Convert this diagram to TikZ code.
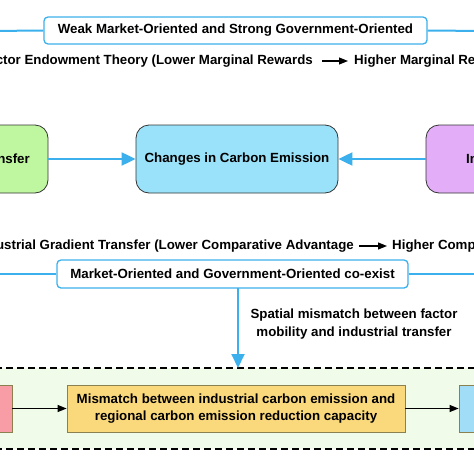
\documentclass[tikz,border=0pt]{standalone}
\usepackage{fontspec}
\setmainfont{Liberation Sans}
\usetikzlibrary{arrows.meta}
\definecolor{lnblue}{HTML}{3CB0EC}
\definecolor{cyanfill}{HTML}{9AE2F9}
\definecolor{greenfill}{HTML}{BFF6A0}
\definecolor{purplefill}{HTML}{E3AEF7}
\definecolor{pinkfill}{HTML}{F89CA6}
\definecolor{yellowfill}{HTML}{FAD97C}
\definecolor{bluebox}{HTML}{A2DDF8}
\definecolor{bgreen}{HTML}{F1FBEA}
\definecolor{boxedge}{HTML}{8A8050}
\tikzset{
  txt/.style={font=\bfseries\fontsize{13.3}{15}\selectfont, inner sep=0pt},
  headbox/.style={draw=lnblue, line width=1.3pt, rounded corners=4pt, fill=white, font=\bfseries\fontsize{13.3}{15}\selectfont, inner sep=0pt},
  bigbox/.style={draw=black!80, line width=0.8pt, rounded corners=13pt, minimum width=202pt, minimum height=68pt, inner sep=0pt},
  sqbox/.style={draw=boxedge, line width=0.8pt, minimum height=47pt, inner sep=0pt},
  blueline/.style={draw=lnblue, line width=2pt},
  bluearrow/.style={blueline, -{Triangle[length=14pt,width=13pt]}},
  blackarrow/.style={draw=black, line width=1.1pt, -{Triangle[length=9pt,width=7pt]}},
}
\begin{document}
\begin{tikzpicture}[x=1pt,y=-1pt]
\useasboundingbox (0,0) rectangle (474,474);
\clip (0,0) rectangle (474,474);
% dashed band
\fill[bgreen] (-5,368) rectangle (480,449);
\draw[dashed, dash pattern=on 7pt off 4pt, line width=1.4pt] (-5,368) -- (480,368);
\draw[dashed, dash pattern=on 7pt off 4pt, line width=1.4pt] (-5,449) -- (480,449);
\coordinate (bandtop) at (238,368);

% top header
\coordinate (tl) at (-10,31);
\coordinate (tr) at (484,31);
\node[headbox, minimum width=383pt, minimum height=27pt] (top) at (235.5,30.5) {Weak Market-Oriented and Strong Government-Oriented};
\draw[blueline] (tl) -- (top.west);
\draw[blueline] (top.east) -- (tr);

% first theory line
\node[txt, anchor=east] (f1) at (313,61) {Factor Endowment Theory (Lower Marginal Rewards};
\node[txt, anchor=west] (f2) at (354,61) {Higher Marginal Rewards)};
\coordinate (fa) at (322,61);
\coordinate (fb) at (348,61);
\draw[blackarrow] (fa) -- (fb);

% middle row
\node[bigbox, fill=cyanfill] (mid) at (237,159) {};
\node[txt] (midt) at (mid) {Changes in Carbon Emission};
\node[bigbox, fill=greenfill] (left) at (-53,159) {};
\node[txt, anchor=east] (leftt) at (30,159) {Factor Transfer};
\node[bigbox, fill=purplefill] (right) at (527,159) {};
\node[txt, anchor=west] (rightt) at (466,159) {Industrial Transfer};
\draw[bluearrow] (left.east) -- (mid.west);
\draw[bluearrow] (right.west) -- (mid.east);

% second theory line
\node[txt, anchor=east] (g1) at (354,246) {Industrial Gradient Transfer (Lower Comparative Advantage};
\node[txt, anchor=west] (g2) at (392,246) {Higher Comparative Advantage)};
\coordinate (ga) at (359,246);
\coordinate (gb) at (387,246);
\draw[blackarrow] (ga) -- (gb);

% second header
\coordinate (bl) at (-10,274);
\coordinate (br) at (484,274);
\node[headbox, minimum width=351pt, minimum height=28pt] (co) at (232.5,274) {Market-Oriented and Government-Oriented co-exist};
\draw[blueline] (bl) -- (co.west);
\draw[blueline] (co.east) -- (br);
\coordinate (cobot) at (238,288);
\draw[bluearrow] (cobot) -- (bandtop);
\node[txt, align=center] (lab) at (354,324) {Spatial mismatch between factor\\[3pt]mobility and industrial transfer};

% bottom row
\node[sqbox, fill=yellowfill, minimum width=338pt, align=center, font=\bfseries\fontsize{13.3}{17}\selectfont] (mis) at (236,408.5) {Mismatch between industrial carbon emission and\\regional carbon emission reduction capacity};
\node[sqbox, fill=pinkfill, minimum width=60pt] (pink) at (-18,408.5) {};
\node[sqbox, fill=bluebox, minimum width=60pt] (bbox) at (489,408.5) {};
\draw[blackarrow] (pink.east) -- (mis.west);
\draw[blackarrow] (mis.east) -- (bbox.west);
\end{tikzpicture}
\end{document}
